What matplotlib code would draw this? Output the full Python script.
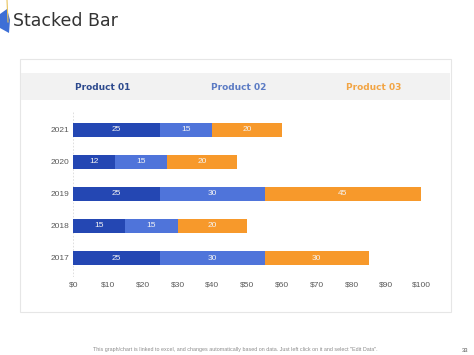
import matplotlib.pyplot as plt
from matplotlib.patches import Rectangle, Polygon

# data
years = ['2017', '2018', '2019', '2020', '2021']
product_01 = [25, 15, 25, 12, 25]
product_02 = [30, 15, 30, 15, 15]
product_03 = [30, 20, 45, 20, 20]
series_names = ['Product 01', 'Product 02', 'Product 03']
xticks = [0, 10, 20, 30, 40, 50, 60, 70, 80, 90, 100]

bar_colors = ['#2447b3', '#4f74da', '#f7992b']
legend_colors = ['#2d4a8e', '#5b7bc4', '#f2a544']

W, H = 474, 355
fig = plt.figure(figsize=(W / 100, H / 100), dpi=100)
fig.patch.set_facecolor('white')

def fx(px):
    return px / W

def fy(py):
    return 1 - py / H

# panel box and grey legend band (behind the axes)
fig.patches.append(Rectangle((fx(20), fy(312)), fx(431), (312 - 59) / H,
                             transform=fig.transFigure, facecolor='white',
                             edgecolor='#e6e6e6', linewidth=0.8, zorder=-2))
fig.patches.append(Rectangle((fx(21), fy(100)), fx(429), 27 / H,
                             transform=fig.transFigure, facecolor='#f2f2f2',
                             edgecolor='none', zorder=-1))

# little logo at top left
fig.patches.append(Polygon([(fx(0), fy(14)), (fx(7), fy(9)), (fx(10), fy(20)),
                            (fx(9), fy(33)), (fx(0), fy(28))], closed=True,
                           transform=fig.transFigure, facecolor='#3d6fd6',
                           edgecolor='none', zorder=-1))
fig.lines.append(plt.Line2D([fx(7), fx(8)], [fy(0), fy(22)],
                            transform=fig.transFigure, color='#e8c25a', lw=0.8))

fig.text(fx(13), fy(21), 'Stacked Bar', fontsize=12.5, color='#333333',
         va='center', ha='left', family='DejaVu Sans')

# legend text in the grey band
for name, col, xc in zip(series_names, legend_colors, [103, 239, 374]):
    fig.text(fx(xc), fy(87), name, fontsize=6.5, fontweight='bold', color=col,
             ha='center', va='center', family='DejaVu Sans')

ax = fig.add_axes([fx(73.3), fy(277.2), (421 - 73.3) / W, (277.2 - 110.8) / H])
ax.set_facecolor('none')

pos = list(range(len(years)))
left = [0] * len(years)
for vals, col in zip([product_01, product_02, product_03], bar_colors):
    bars = ax.barh(pos, vals, left=left, height=0.44, color=col, zorder=2)
    ax.bar_label(bars, labels=[str(v) for v in vals], label_type='center',
                 color='#f4f4f4', fontsize=6, family='Liberation Sans')
    left = [l + v for l, v in zip(left, vals)]

ax.set_xlim(0, 100)
ax.set_ylim(-0.6, 4.6)
ax.set_xticks(xticks)
ax.set_xticklabels(['$' + str(t) for t in xticks])
ax.set_yticks(pos)
ax.set_yticklabels(years)
ax.tick_params(length=0, labelsize=6, labelcolor='#595959', pad=3)
for lab in ax.get_xticklabels() + ax.get_yticklabels():
    lab.set_family('Liberation Sans')
for s in ax.spines.values():
    s.set_visible(False)
ax.axvline(0, color='#d9d9d9', lw=0.6, ls=(0, (2, 2)), zorder=1)

# footer
fig.text(fx(235), fy(350), 'This graph/chart is linked to excel, and changes automatically based on data. '
         'Just left click on it and select "Edit Data".', fontsize=3.9, color='#8c8c8c',
         ha='center', va='center', family='Liberation Sans')
fig.text(fx(465), fy(351), '33', fontsize=4.2, color='#555555', ha='center', va='center',
         family='Liberation Sans')

fig.savefig('out.png', dpi=100)
